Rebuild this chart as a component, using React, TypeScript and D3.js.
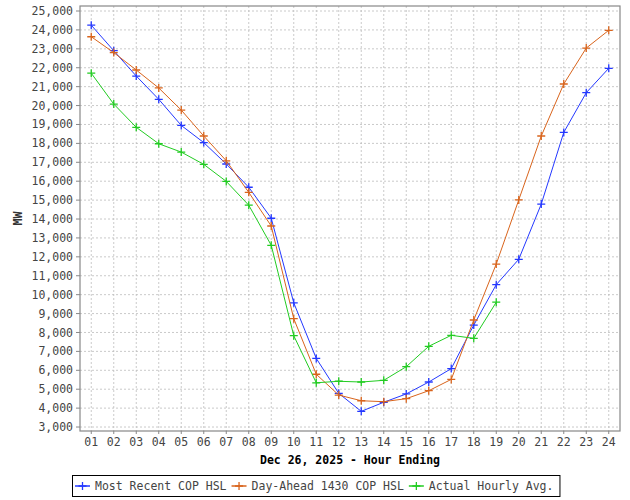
import * as d3 from 'd3';

const hours = ['01', '02', '03', '04', '05', '06', '07', '08', '09', '10', '11', '12',
  '13', '14', '15', '16', '17', '18', '19', '20', '21', '22', '23', '24'];

const mostRecent = [24250, 22900, 21560, 20330, 18950, 18040, 16910, 15680, 14040, 9570, 6630, 4780,
  3830, 4310, 4750, 5380, 6090, 8390, 10530, 11870, 14790, 18580, 20680, 21970];

const dayAhead = [23640, 22800, 21880, 20930, 19760, 18390, 17080, 15410, 13630, 8730, 5790, 4690,
  4390, 4340, 4500, 4920, 5520, 8660, 11620, 15010, 18390, 21140, 23040, 23980];

const actual = [21710, 20080, 18850, 17980, 17540, 16890, 15990, 14730, 12610, 7830, 5340, 5420,
  5380, 5470, 6190, 7270, 7850, 7690, 9600];

const yTicks = d3.range(3000, 25001, 1000);

const seriesNames = ['Most Recent COP HSL', 'Day-Ahead 1430 COP HSL', 'Actual Hourly Avg.'];
const seriesColors = ['#2438ff', '#d9641c', '#22cc22'];

const W = 630;
const H = 500;
const plot = { left: 80, right: 620, top: 6, bottom: 431 };
const FONT = '"DejaVu Sans Mono", "Liberation Mono", monospace';
const FS = 11.5;
const CHAR_W = FS * 0.602;

export default function App() {
  const x = d3.scalePoint<string>().domain(hours).range([plot.left, plot.right]).padding(0.5);
  const y = d3.scaleLinear().domain([2790, 25265]).range([plot.bottom, plot.top]);

  const allSeries = [mostRecent, dayAhead, actual];
  const line = d3.line<number>()
    .x((_, i) => x(hours[i]) as number)
    .y(d => y(d));

  // legend layout
  let lx = 75;
  let textEnd = lx;
  const legendItems = seriesNames.map((name, i) => {
    const item = { name, color: seriesColors[i], x: lx };
    textEnd = lx + 20 + name.length * CHAR_W;
    lx = textEnd + 5;
    return item;
  });
  const legendRight = textEnd + 6;

  const plus = 'M-4,0H4M0,-4V4';

  return (
    <svg width={W} height={H} style={{ position: 'absolute', left: 0, top: 0, background: '#fff' }}
      fontFamily={FONT}>
      <rect x={0} y={0} width={W} height={H} fill="#fff" />
      <rect x={plot.left} y={plot.top} width={plot.right - plot.left} height={plot.bottom - plot.top} fill="#fff" />

      {/* grid */}
      {yTicks.map(t => (
        <line key={'gy' + t} x1={plot.left} x2={plot.right} y1={y(t)} y2={y(t)}
          stroke="#bdbdbd" strokeDasharray="2,2" strokeWidth={0.8} />
      ))}
      {hours.map(h => (
        <line key={'gx' + h} x1={x(h)} x2={x(h)} y1={plot.top} y2={plot.bottom}
          stroke="#bdbdbd" strokeDasharray="2,2" strokeWidth={0.8} />
      ))}

      {/* y axis */}
      {yTicks.map(t => (
        <g key={'yt' + t}>
          <line x1={plot.left - 4} x2={plot.left} y1={y(t)} y2={y(t)} stroke="#888" />
          <text x={plot.left - 7} y={y(t)} dy="0.35em" textAnchor="end" fontSize={FS} fill="#444">
            {d3.format(',')(t)}
          </text>
        </g>
      ))}
      <text transform={`translate(22,${(plot.top + plot.bottom) / 2}) rotate(-90)`} textAnchor="middle"
        fontSize={FS} fontWeight="bold" fill="#333">MW</text>

      {/* x axis */}
      {hours.map(h => (
        <g key={'xt' + h}>
          <line x1={x(h)} x2={x(h)} y1={plot.bottom} y2={plot.bottom + 3} stroke="#888" />
          <text x={x(h)} y={plot.bottom + 15} textAnchor="middle" fontSize={FS} fill="#444">{h}</text>
        </g>
      ))}
      <text x={(plot.left + plot.right) / 2} y={464} textAnchor="middle" fontSize={FS} fontWeight="bold" fill="#000">
        Dec 26, 2025 - Hour Ending
      </text>

      <rect x={plot.left} y={plot.top} width={plot.right - plot.left} height={plot.bottom - plot.top}
        fill="none" stroke="#888" strokeWidth={1.2} />

      {/* series */}
      {allSeries.map((s, si) => (
        <g key={'s' + si}>
          <path d={line(s) ?? ''} fill="none" stroke={seriesColors[si]} strokeWidth={1} />
          {s.map((v, i) => (
            <path key={i} d={plus} transform={`translate(${x(hours[i])},${y(v)})`}
              stroke={seriesColors[si]} strokeWidth={1.3} fill="none" />
          ))}
        </g>
      ))}

      {/* legend */}
      <rect x={72.5} y={475.5} width={legendRight - 72} height={21} fill="#fff" stroke="#000" />
      {legendItems.map(it => (
        <g key={it.name}>
          <line x1={it.x} x2={it.x + 15} y1={486} y2={486} stroke={it.color} strokeWidth={1.5} />
          <path d={plus} transform={`translate(${it.x + 7.5},486)`} stroke={it.color} strokeWidth={1.3} />
          <text x={it.x + 20} y={486} dy="0.35em" fontSize={FS} fill="#444">{it.name}</text>
        </g>
      ))}
    </svg>
  );
}
